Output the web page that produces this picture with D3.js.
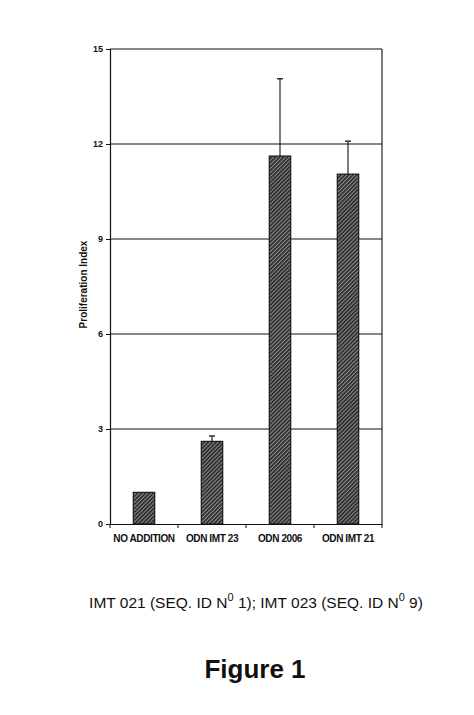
<!DOCTYPE html>
<html><head><meta charset="utf-8">
<script src="https://cdn.jsdelivr.net/npm/d3@7"></script>
<style>body{margin:0;background:#fff}svg{display:block}</style>
</head><body>
<script>
const categories = ["NO ADDITION", "ODN IMT 23", "ODN 2006", "ODN IMT 21"];
const values = [1.0, 2.61, 11.62, 11.05];
const errors = [0, 0.17, 2.44, 1.04];
const yTicks = [0, 3, 6, 9, 12, 15];

(function () {
const W = 474, H = 715;
const svg = d3.select("body").append("svg").attr("width", W).attr("height", H);
const defs = svg.append("defs");
const pat = defs.append("pattern").attr("id", "hatch").attr("patternUnits", "userSpaceOnUse")
  .attr("width", 2.8).attr("height", 2.8).attr("patternTransform", "rotate(45)");
pat.append("rect").attr("width", 2.8).attr("height", 2.8).attr("fill", "#8a8a8a");
pat.append("rect").attr("width", 1.6).attr("height", 2.8).attr("fill", "#262626");

const pL = 110, pR = 382, pT = 49, pB = 524;
const x = d3.scaleBand().domain(categories).range([pL, pR]).paddingInner(0.684).paddingOuter(0.342);
const y = d3.scaleLinear().domain([0, 15]).range([pB, pT]);

// gridlines
svg.append("g").selectAll("line").data(yTicks.filter(d => d > 0)).join("line")
  .attr("x1", pL).attr("x2", pR).attr("y1", d => y(d)).attr("y2", d => y(d))
  .attr("stroke", "#111").attr("stroke-width", 1.1);
// right border
svg.append("line").attr("x1", pR).attr("x2", pR).attr("y1", pT).attr("y2", pB)
  .attr("stroke", "#111").attr("stroke-width", 1.1);

// error bars
const data = categories.map((c, i) => ({c, v: values[i], e: errors[i]}));
const eb = svg.append("g");
eb.selectAll("line.v").data(data.filter(d => d.e > 0)).join("line")
  .attr("x1", d => x(d.c) + x.bandwidth() / 2).attr("x2", d => x(d.c) + x.bandwidth() / 2)
  .attr("y1", d => y(d.v)).attr("y2", d => y(d.v + d.e)).attr("stroke", "#111").attr("stroke-width", 1.1);
eb.selectAll("line.c").data(data.filter(d => d.e > 0)).join("line")
  .attr("x1", d => x(d.c) + x.bandwidth() / 2 - 3).attr("x2", d => x(d.c) + x.bandwidth() / 2 + 3)
  .attr("y1", d => y(d.v + d.e)).attr("y2", d => y(d.v + d.e)).attr("stroke", "#111").attr("stroke-width", 1.3);

// bars
svg.append("g").selectAll("rect").data(data).join("rect")
  .attr("x", d => x(d.c)).attr("width", x.bandwidth())
  .attr("y", d => y(d.v)).attr("height", d => y(0) - y(d.v))
  .attr("fill", "url(#hatch)").attr("stroke", "#111").attr("stroke-width", 1.1);

// y axis
const yAxis = svg.append("g").attr("transform", `translate(${pL},0)`)
  .call(d3.axisLeft(y).tickValues(yTicks).tickSize(4).tickPadding(3).tickFormat(d3.format("d")));
yAxis.select(".domain").attr("stroke", "#111").attr("stroke-width", 1.2);
yAxis.selectAll(".tick line").attr("stroke", "#111");
yAxis.selectAll("text").attr("font-family", "Liberation Sans, Arial, sans-serif")
  .attr("font-weight", "bold").attr("font-size", 9).attr("fill", "#111");

// x axis
const xAxis = svg.append("g").attr("transform", `translate(0,${pB})`)
  .call(d3.axisBottom(x).tickSize(0).tickPadding(11));
xAxis.select(".domain").attr("stroke", "#111").attr("stroke-width", 1.2);
xAxis.selectAll("text").attr("font-family", "Liberation Sans Narrow, Arial Narrow, sans-serif")
  .attr("font-weight", "bold").attr("font-size", 10).attr("fill", "#111").attr("letter-spacing", -0.4);
// category separator ticks
const sep = d3.range(categories.length + 1).map(i => pL + i * x.step());
svg.append("g").selectAll("line").data(sep).join("line")
  .attr("x1", d => d).attr("x2", d => d).attr("y1", pB).attr("y2", pB + 4)
  .attr("stroke", "#111").attr("stroke-width", 1);

// y label
svg.append("text").attr("transform", `translate(87,${(pT + pB) / 2 - 2}) rotate(-90)`)
  .attr("text-anchor", "middle").attr("font-family", "Liberation Sans, Arial, sans-serif")
  .attr("font-weight", "bold").attr("font-size", 10).attr("fill", "#111").text("Proliferation Index");

// caption
const cap = svg.append("text").attr("x", 256).attr("y", 608).attr("text-anchor", "middle")
  .attr("font-family", "Liberation Sans, Arial, sans-serif").attr("font-size", 15.5).attr("fill", "#111");
cap.append("tspan").text("IMT 021 (SEQ. ID N");
cap.append("tspan").attr("dy", -7).attr("font-size", 11).text("0");
cap.append("tspan").attr("dy", 7).text("  1); IMT 023 (SEQ. ID N");
cap.append("tspan").attr("dy", -7).attr("font-size", 11).text("0");
cap.append("tspan").attr("dy", 7).text(" 9)");

svg.append("text").attr("x", 255).attr("y", 678).attr("text-anchor", "middle")
  .attr("font-family", "Liberation Sans, Arial, sans-serif").attr("font-weight", "bold")
  .attr("font-size", 26).attr("fill", "#111").text("Figure 1");
})();
</script>
</body></html>
